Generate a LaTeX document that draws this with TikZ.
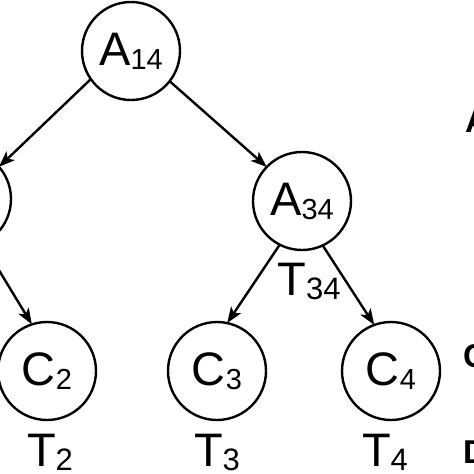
\documentclass[tikz,border=0pt]{standalone}
\usepackage{fontspec}
\setmainfont{Liberation Sans}
\usetikzlibrary{arrows.meta}
\newcommand{\nsub}[2]{{\fontsize{47}{50}\selectfont #1\raisebox{-4pt}{\fontsize{29}{30}\selectfont #2}}}
\newcommand{\tsub}[2]{{\fontsize{47}{50}\selectfont #1\raisebox{-4pt}{\fontsize{31}{32}\selectfont #2}}}
\begin{document}
\begin{tikzpicture}[x=1pt,y=-1pt,
  state/.style={circle,draw,line width=2.4pt,minimum size=98pt,inner sep=0pt,outer sep=0pt},
  conn/.style={line width=2.4pt,-{Stealth[length=16pt,width=12pt,inset=4pt]}},
  tlab/.style={anchor=base,inner sep=0pt},
  side/.style={anchor=base west,inner sep=0pt,font=\fontsize{33}{34}\selectfont\bfseries}]
\useasboundingbox (0,0) rectangle (474,474);
\node[state] (A14) at (131,51) {\nsub{A}{14}};
\node[state] (A12) at (-38,199) {};
\node[state] (A34) at (302,201) {\nsub{A}{34}};
\node[state] (C2) at (47,371) {\nsub{C}{2}};
\node[state] (C3) at (217,371) {\nsub{C}{3}};
\node[state] (C4) at (391,371) {\nsub{C}{4}};
\node[tlab] (T34) at (309,295) {\tsub{T}{34}};
\node[tlab] (T2) at (50,466) {\tsub{T}{2}};
\node[tlab] (T3) at (217,466) {\tsub{T}{3}};
\node[tlab] (T4) at (385,466) {\tsub{T}{4}};
\node[side] (sA) at (465,132) {A};
\node[side] (sC) at (463,367) {C};
\node[side] (sD) at (463,463) {D};
\draw[conn] (A14.215) -- (A12.41);
\draw[conn] (A14.322) -- (A34.136);
\draw[conn] (A12.295) -- (C2.108);
\draw[conn] (A34.243) -- (C3.78);
\draw[conn] (A34.295) -- (C4.110);
\end{tikzpicture}
\end{document}
